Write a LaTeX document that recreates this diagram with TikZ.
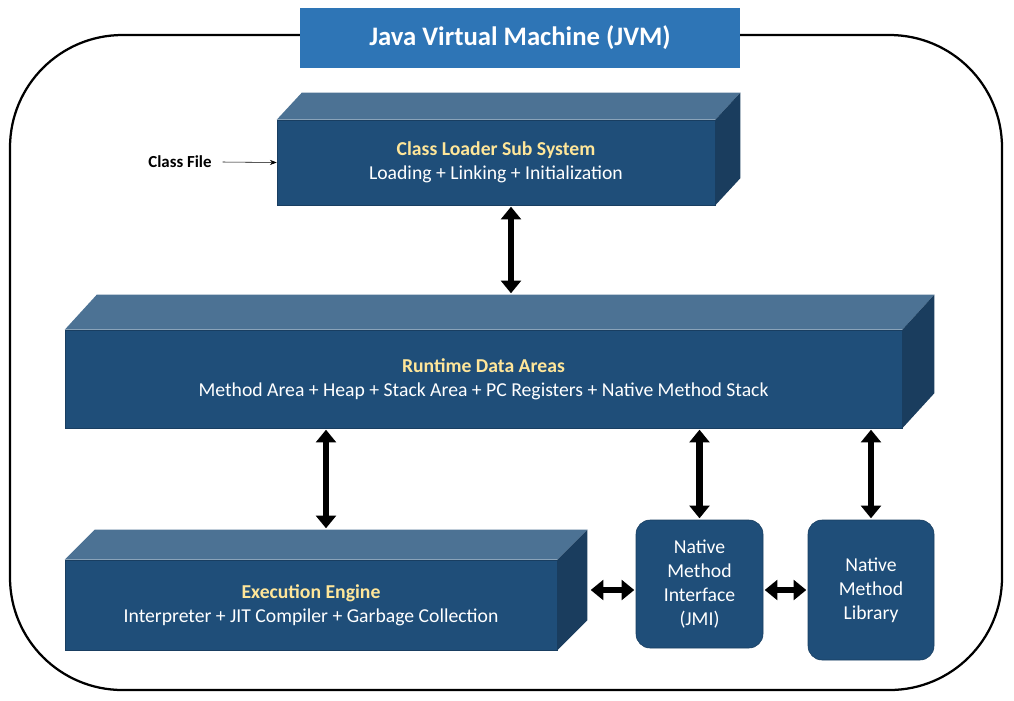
\documentclass[tikz,border=0pt]{standalone}
\usepackage{fontspec}
\setmainfont{Carlito}
\usetikzlibrary{arrows.meta,calc}
\definecolor{front}{HTML}{1F4E79}
\definecolor{topface}{HTML}{4C7294}
\definecolor{side}{HTML}{1A3D5E}
\definecolor{titleblue}{HTML}{2E75B6}
\definecolor{heading}{HTML}{FFE699}
\tikzset{
    box/.style={fill=front, draw=front!80!black, text=white, align=center, font=\fontsize{14}{17}\selectfont, inner sep=0pt},
    rbox/.style={box, rounded corners=10pt},
    dbl/.style={line width=4.5pt, {Triangle[length=9pt,width=14pt]}-{Triangle[length=9pt,width=14pt]}, shorten <=1pt, shorten >=1pt},
}
\newcommand{\head}[1]{{\bfseries\color{heading}#1}}
% 3D faces for a front node: name, dx, dy
\newcommand{\solid}[3]{
    \fill[topface] (#1.north west) -- ++(#2,#3) -- ($(#1.north east)+(#2,#3)$) -- (#1.north east) -- cycle;
    \fill[side] (#1.north east) -- ++(#2,#3) -- ($(#1.south east)+(#2,#3)$) -- (#1.south east) -- cycle;
}
\begin{document}
\begin{tikzpicture}[x=0.025cm,y=-0.025cm]
\useasboundingbox (0,0) rectangle (1014,700);

% frame
\draw[line width=1.6pt, rounded corners=80] (10,35) rectangle (1002,690);
\node (title) [fill=titleblue, text=white, minimum width=440*0.025cm, minimum height=60*0.025cm,
    font=\fontsize{19}{22}\selectfont\bfseries] at (520,38) {Java Virtual Machine (JVM)};

% Class loader
\node (cls) [box, minimum width=438*0.025cm, minimum height=85*0.025cm] at (496,162.5)
    {\head{Class Loader Sub System}\\Loading + Linking + Initialization};
\solid{cls}{25}{-27}

% Runtime data areas
\node (rda) [box, minimum width=837*0.025cm, minimum height=98*0.025cm] at (483.5,379)
    {\head{Runtime Data Areas}\\Method Area + Heap + Stack Area + PC Registers + Native Method Stack};
\solid{rda}{32}{-35}
\coordinate (rdatop) at ($(rda.north)+(0,-35)$);

% Execution engine
\node (exe) [box, minimum width=492*0.025cm, minimum height=90*0.025cm] at (311,605)
    {\head{Execution Engine}\\Interpreter + JIT Compiler + Garbage Collection};
\solid{exe}{30}{-30}
\coordinate (exetop) at ($(exe.north)+(15,-30)$);

% Native boxes
\node (nmi) [rbox, minimum width=127*0.025cm, minimum height=128*0.025cm] at (699.5,584)
    {Native\\Method\\Interface\\(JMI)};
\node (nml) [rbox, minimum width=126*0.025cm, minimum height=140*0.025cm] at (871,590)
    {Native\\Method\\Library};

% class file
\node (cf) [font=\fontsize{12}{14}\selectfont\bfseries] at (180,162) {Class File};
\draw[-Stealth] (cf.east) ++(6,0) -- (cls.west);

% connectors
\draw[dbl] (cls.south -| 511,0) -- (rdatop -| 511,0);
\draw[dbl] (rda.south -| exetop) -- (exetop);
\draw[dbl] (rda.south -| nmi) -- (nmi.north);
\draw[dbl] (rda.south -| nml) -- (nml.north);
\draw[dbl] ($(exe.east)+(32,-15)$) -- (nmi.west |- 0,590);
\draw[dbl] (nmi.east |- 0,590) -- (nml.west |- 0,590);
\end{tikzpicture}
\end{document}
